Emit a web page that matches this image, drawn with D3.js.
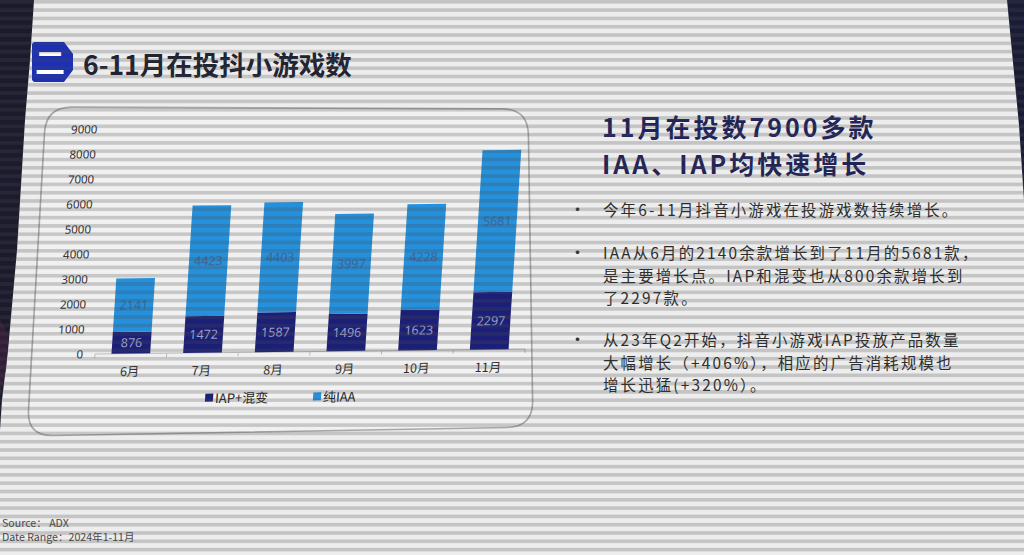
<!DOCTYPE html>
<html><head><meta charset="utf-8">
<script src="https://cdn.jsdelivr.net/npm/d3@7"></script>
<style>html,body{margin:0;padding:0;background:#ececec;overflow:hidden}svg{display:block}
text{font-family:"Noto Sans CJK SC","Noto Sans",sans-serif}</style>
</head><body><svg id="c" width="1024" height="555"></svg>
<script>
// ---- data ----
const categories = ["6月","7月","8月","9月","10月","11月"];
const iapHybrid = [876,1472,1587,1496,1623,2297];
const pureIAA = [2141,4423,4403,3997,4228,5681];
const seriesNames = ["IAP+混变","纯IAA"];
const yTicks = [0,1000,2000,3000,4000,5000,6000,7000,8000,9000];
const pageTitle = "6-11月在投抖小游戏数";
const headTitle = ["11月在投数7900多款","IAA、IAP均快速增长"];
const bullets = [
  ["今年6-11月抖音小游戏在投游戏数持续增长。"],
  ["IAA从6月的2140余款增长到了11月的5681款，","是主要增长点。IAP和混变也从800余款增长到","了2297款。"],
  ["从23年Q2开始，抖音小游戏IAP投放产品数量","大幅增长（+406%），相应的广告消耗规模也","增长迅猛(+320%）。"]
];
const sourceLines = ["Source： ADX","Date Range：2024年1-11月"];

const colors = {dark:"#1b1f78", light:"#2590dc"};

const svg = d3.select("#c");
const defs = svg.append("defs");
const pat = defs.append("pattern").attr("id","stripes").attr("patternUnits","userSpaceOnUse")
  .attr("width",8).attr("height",8.3);
pat.append("rect").attr("x",0).attr("y",0).attr("width",8).attr("height",3.6).attr("fill","rgba(70,70,70,0.25)");

// background
svg.append("rect").attr("width",1024).attr("height",555).attr("fill","#ededed");
// dark projector edges
svg.append("path").attr("d",d3.line()([[0,0],[34,0],[30,60],[25,120],[17,250],[8,350],[2,400],[0,430]])+"Z").attr("fill","#1c1b2e");
svg.append("path").attr("d",d3.line()([[0,320],[9,335],[6,370],[0,395]])+"Z").attr("fill","#3b1f3f").attr("opacity",0.7);
svg.append("path").attr("d",d3.line()([[1007,0],[1024,0],[1024,200],[1019,125]])+"Z").attr("fill","#1a1c36");

// card
function roundedPoly(pts,r){
  let d="";
  const n=pts.length;
  for(let i=0;i<n;i++){
    const p=pts[i], a=pts[(i-1+n)%n], b=pts[(i+1)%n];
    const da=Math.hypot(a[0]-p[0],a[1]-p[1]), db=Math.hypot(b[0]-p[0],b[1]-p[1]);
    const p1=[p[0]+(a[0]-p[0])*r/da,p[1]+(a[1]-p[1])*r/da];
    const p2=[p[0]+(b[0]-p[0])*r/db,p[1]+(b[1]-p[1])*r/db];
    d+=(i===0?"M":"L")+p1[0]+","+p1[1]+"Q"+p[0]+","+p[1]+" "+p2[0]+","+p2[1];
  }
  return d+"Z";
}
const cardPts=[[46,107],[528,109],[533,427],[27,436]];
svg.append("path").attr("d",roundedPoly(cardPts,26)).attr("fill","rgba(255,255,255,0.25)")
  .attr("stroke","#a7a7a7").attr("stroke-width",1.6);

// header badge
svg.append("path").attr("d",d3.line()([[34,42],[64,42],[73,54],[73,70],[64,82],[34,82],[32,80],[32,44]])+"Z").attr("fill","#1c30b6");
svg.append("text").attr("x",50).attr("y",73).attr("text-anchor","middle").attr("fill","#fff")
  .attr("font-size",30).attr("font-weight",700).text("二");
svg.append("text").attr("x",83).attr("y",75).attr("fill","#1f2230").attr("font-size",26.5).attr("font-weight",700).text(pageTitle);

// right panel
svg.selectAll("text.ht").data(headTitle).join("text").attr("class","ht")
  .attr("x",602).attr("y",(d,i)=>137+i*37).attr("fill","#1f2358").attr("font-size",25)
  .attr("letter-spacing",3).attr("font-weight",700).text(d=>d);
const lineYs=[[216],[259,281.5,304],[346,368.5,391]];
bullets.forEach((lines,bi)=>{
  svg.append("text").attr("x",569).attr("y",lineYs[bi][0]).attr("fill","#333").attr("font-size",17).text("•");
  lines.forEach((t,li)=>{
    svg.append("text").attr("x",603).attr("y",lineYs[bi][li]).attr("fill","#2b2b2b").attr("font-size",15.4)
      .attr("letter-spacing",2.2).text(t);
  });
});

// source
svg.selectAll("text.src").data(sourceLines).join("text").attr("class","src")
  .attr("x",2).attr("y",(d,i)=>527+i*14).attr("fill","#4a4a4a").attr("font-size",10.6).text(d=>d);

// ---- chart ----
const W=430;
const g=svg.append("g").attr("transform","translate(95,354) matrix(1,-0.0116,-0.064,1,0,0)");
const x=d3.scaleBand().domain(categories).range([0,W]).paddingInner(0.46).paddingOuter(0.23);
const y=d3.scaleLinear().domain([0,9000]).range([0,-225]);

const yAxis=g.append("g").call(d3.axisLeft(y).tickValues(yTicks).tickSize(0).tickPadding(12).tickFormat(d3.format("d")));
yAxis.select(".domain").remove();
yAxis.selectAll("text").attr("font-size",11.5).attr("fill","#2e2e2e").style("font-family","'Noto Sans','Noto Sans CJK SC',sans-serif");

// baseline + ticks
g.append("line").attr("x1",0).attr("x2",W).attr("y1",0).attr("y2",0).attr("stroke","#bcbcbc").attr("stroke-width",1);
g.selectAll("line.tk").data(d3.range(categories.length+1)).join("line").attr("class","tk")
  .attr("x1",i=>i*x.step()).attr("x2",i=>i*x.step()).attr("y1",0).attr("y2",4).attr("stroke","#bcbcbc");

const stackData=categories.map((c,i)=>({cat:c,iap:iapHybrid[i],iaa:pureIAA[i]}));
const stack=d3.stack().keys(["iap","iaa"])(stackData);
const segColors=[colors.dark,colors.light];
const labelColors=["#9ea2c8","#3f6797"];
stack.forEach((layer,li)=>{
  g.selectAll("rect.s"+li).data(layer).join("rect").attr("class","s"+li)
    .attr("x",d=>x(d.data.cat)).attr("width",x.bandwidth())
    .attr("y",d=>y(d[1])).attr("height",d=>y(d[0])-y(d[1])).attr("fill",segColors[li]);
  g.selectAll("text.l"+li).data(layer).join("text").attr("class","l"+li)
    .attr("x",d=>x(d.data.cat)+x.bandwidth()/2).attr("y",d=>(y(d[0])+y(d[1]))/2)
    .attr("text-anchor","middle").attr("dominant-baseline","central")
    .attr("font-size",12.5).attr("fill",labelColors[li]).style("font-family","'Noto Sans',sans-serif")
    .text(d=>d[1]-d[0]);
});

// category labels
g.selectAll("text.cat").data(categories).join("text").attr("class","cat")
  .attr("x",d=>x(d)+x.bandwidth()/2).attr("y",17).attr("text-anchor","middle").attr("dominant-baseline","central")
  .attr("font-size",12.5).attr("fill","#2e2e2e").text(d=>d);

// legend
const leg=g.selectAll("g.leg").data(seriesNames).join("g").attr("class","leg")
  .attr("transform",(d,i)=>`translate(${i===0?113:221},45)`);
leg.append("rect").attr("x",0).attr("y",-4).attr("width",8).attr("height",8).attr("fill",(d,i)=>segColors[i]);
leg.append("text").attr("x",10).attr("y",0).attr("dominant-baseline","central").attr("font-size",13).attr("fill","#222").text(d=>d);

// moire stripes overlay
svg.append("rect").attr("width",1024).attr("height",555).attr("fill","url(#stripes)").style("pointer-events","none");
</script></body></html>
